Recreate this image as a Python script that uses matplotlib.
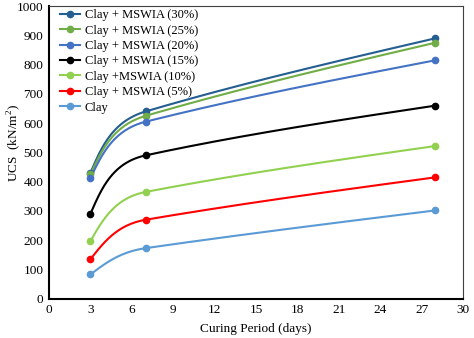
import numpy as np
import matplotlib
matplotlib.use("Agg")
import matplotlib.pyplot as plt

plt.rcParams['font.family'] = ['Liberation Serif', 'DejaVu Serif']
plt.rcParams['mathtext.fontset'] = 'custom'
plt.rcParams['mathtext.rm'] = 'Liberation Serif'

days = [3, 7, 28]
labels = ["Clay + MSWIA (30%)", "Clay + MSWIA (25%)", "Clay + MSWIA (20%)",
          "Clay + MSWIA (15%)", "Clay +MSWIA (10%)", "Clay + MSWIA (5%)", "Clay"]
mswia30 = [430, 640, 890]
mswia25 = [425, 625, 875]
mswia20 = [412, 605, 815]
mswia15 = [290, 490, 660]
mswia10 = [197, 365, 522]
mswia5 = [135, 270, 415]
clay = [83, 173, 302]
series = [mswia30, mswia25, mswia20, mswia15, mswia10, mswia5, clay]
colors = ["#255e91", "#70ad47", "#4472c4", "#000000", "#92d050", "#ff0000", "#5b9bd5"]
xticks = [0, 3, 6, 9, 12, 15, 18, 21, 24, 27, 30]
yticks = [0, 100, 200, 300, 400, 500, 600, 700, 800, 900, 1000]

fig = plt.figure(figsize=(4.74, 3.38), dpi=100)
ax = fig.add_axes([0.1034, 0.116, 0.8736, 0.866])
ax.set_xlim(0, 30)
ax.set_ylim(0, 1000)


def smooth(xs, ys, n=80):
    # smoothed line in display space (Excel-like), then back to data coords
    P = ax.transData.transform(np.column_stack([xs, ys]).astype(float))
    m = len(P)
    tang = [None] * m
    for i in range(1, m - 1):
        a = P[i] - P[i - 1]
        b = P[i + 1] - P[i]
        La, Lb = np.hypot(*a), np.hypot(*b)
        d = a * La + b * Lb
        tang[i] = d / np.hypot(*d)
    ctrl = []
    for i in range(m - 1):
        p0, p1 = P[i], P[i + 1]
        L = np.hypot(*(p1 - p0))
        arm = L * (0.42 if L < 150 else 0.33)
        c1 = p0 + tang[i] * arm if tang[i] is not None else None
        c2 = p1 - tang[i + 1] * arm if tang[i + 1] is not None else None
        if c1 is None:
            c1 = (p0 + c2) / 2.0
        if c2 is None:
            c2 = (p1 + c1) / 2.0
        ctrl.append((p0, c1, c2, p1))
    t = np.linspace(0, 1, n)[:, None]
    out = []
    for k, (p0, c1, c2, p1) in enumerate(ctrl):
        seg = ((1 - t) ** 3) * p0 + 3 * ((1 - t) ** 2) * t * c1 + 3 * (1 - t) * t ** 2 * c2 + t ** 3 * p1
        out.append(seg if k == 0 else seg[1:])
    s = ax.transData.inverted().transform(np.vstack(out))
    return s[:, 0], s[:, 1]


for ys, c, lab in zip(series, colors, labels):
    sx, sy = smooth(days, ys)
    ax.plot(sx, sy, color=c, lw=1.5, zorder=2)
    ax.plot(days, ys, 'o', color=c, ms=4.5, zorder=3)
    ax.plot([], [], '-o', color=c, lw=1.5, ms=4.5, label=lab)

ax.set_xticks(xticks)
ax.set_yticks(yticks)
ax.tick_params(labelsize=9.5, length=0, pad=4)
for sp in ['left', 'bottom']:
    ax.spines[sp].set_linewidth(1.5)
for sp in ['top', 'right']:
    ax.spines[sp].set_linewidth(0.8)
    ax.spines[sp].set_color('#404040')
ax.set_xlabel("Curing Period (days)", fontsize=9.5, labelpad=5)
ax.set_ylabel("UCS  (kN/m$^2$)", fontsize=9.5)
ax.yaxis.set_label_coords(-0.064, 0.532)
ax.legend(loc='upper left', frameon=False, fontsize=9, handlelength=1.6,
          labelspacing=0.27, borderaxespad=0.0, handletextpad=0.35,
          bbox_to_anchor=(0.015, 1.006))

fig.savefig("out.png", dpi=100)
